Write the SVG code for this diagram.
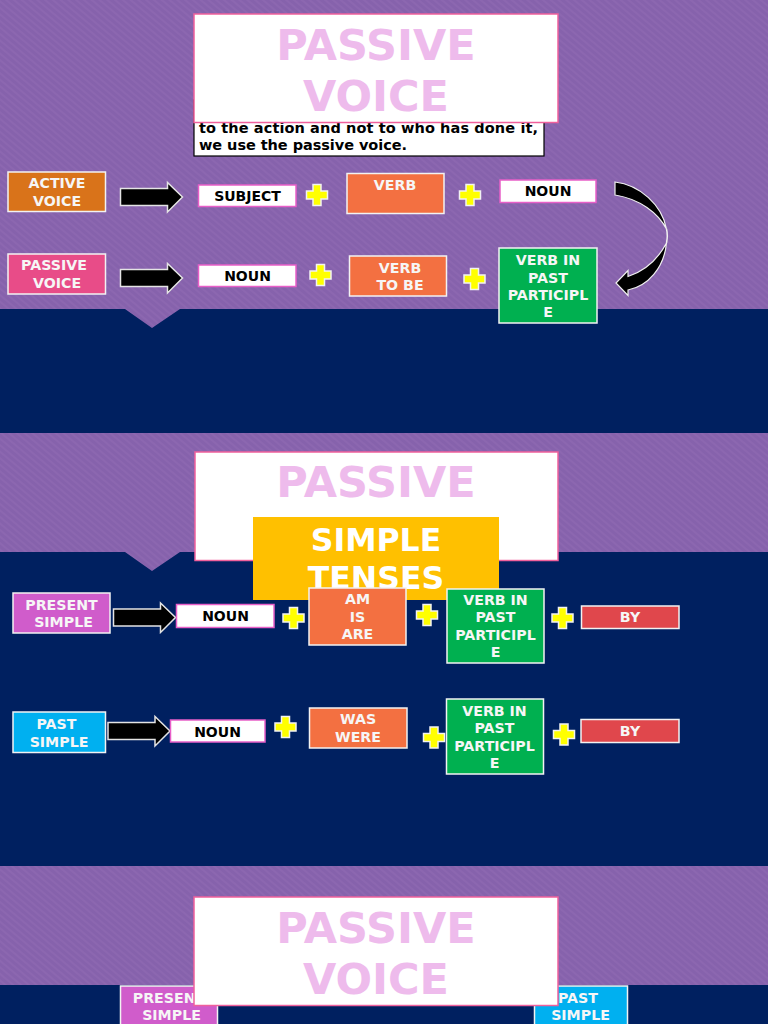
<svg xmlns="http://www.w3.org/2000/svg" width="768" height="1024" viewBox="0 0 768 1024">
<defs>
<pattern id="stripe" width="5" height="5" patternUnits="userSpaceOnUse" patternTransform="rotate(40)">
<rect width="5" height="5" fill="#8662ac"/>
<rect width="5" height="2" fill="#8c67b0"/>
</pattern>
<g id="plus"><path d="M-4 -10.500H4V-4H10.500V4H4V10.500H-4V4H-10.500V-4H-4Z" fill="#ffff00" stroke="#f2f2f2" stroke-width="1.500"/></g>
<g id="arrow"><path d="M0 -8.500H47V-14.500L62 0L47 15V8.500H0Z" fill="#000" stroke="#e4e4e4" stroke-width="1.500"/></g>
</defs>
<style>
text{font-family:"DejaVu Sans","Liberation Sans",sans-serif;font-weight:700;text-anchor:middle}
.t{font-size:43px;fill:#eebbec}
.l{font-size:14.200px;fill:#f6f6f6}
.k{font-size:14px;fill:#000}
.note{font-size:14.500px;fill:#000}
.big{font-size:31.500px;fill:#fff}
.titlebox{fill:#fff;stroke:#f0609c;stroke-width:1.500}
.w{fill:#fff;stroke:#e85fc8;stroke-width:1.500}
.n{stroke:#f2f2f2;stroke-width:1.500}
</style>
<rect id="bg" width="768" height="1024" fill="#002060"/>
<g id="bands">
<path d="M0 0H768V309H180L152 328L125 309H0Z" fill="url(#stripe)"/>
<path d="M0 433H768V552H180L152 571L125 552H0Z" fill="url(#stripe)"/>
<path d="M0 866H768V985H0Z" fill="url(#stripe)"/>
</g>

<g id="note"><rect x="194" y="100" width="350" height="56" fill="#fff" stroke="#000" stroke-width="1.200"/>
<text class="note" x="368.500" y="132.500" textLength="339">to the action and not to who has done it,</text>
<text class="note" x="303" y="149.500" textLength="208">we use the passive voice.</text></g>
<g id="title1"><rect class="titlebox" x="194" y="14" width="364" height="108.500"/>
<text class="t" x="376" y="59.500">PASSIVE</text><text class="t" x="376" y="110.500">VOICE</text></g>

<g id="connectors">
<use href="#arrow" x="120.500" y="197"/>
<use href="#arrow" x="120.500" y="278"/>
<use href="#arrow" x="113.500" y="617.500"/>
<use href="#arrow" x="108" y="731"/>
<path id="curve" d="M615 182C640 185 662 205 666.500 229C658 213 640 199 615 195Z" fill="#000" stroke="#f0f0f0" stroke-width="1.200"/>
<path id="curvehead" d="M666.500 243C664 268 648 286 628 290V295.500L616 283L628 270.500V276.500C645 271 658 259 666.500 243Z" fill="#000" stroke="#f0f0f0" stroke-width="1.200"/>
<path d="M666.500 229C667.500 233 667.500 238 666.500 243" fill="none" stroke="#f0f0f0" stroke-width="1.500"/>
</g>

<g id="active"><rect class="n" x="8" y="172" width="97.500" height="39.500" fill="#d9731a"/><text class="l" x="57" y="188">ACTIVE</text><text class="l" x="57" y="205.500">VOICE</text></g>
<g id="subject"><rect class="w" x="198.500" y="185" width="97.500" height="21.500"/><text class="k" x="247.500" y="201">SUBJECT</text></g>
<use href="#plus" x="317" y="195"/>
<g id="verb"><rect class="n" x="347" y="173.500" width="97" height="40" fill="#f37041"/><text class="l" x="395" y="190">VERB</text></g>
<use href="#plus" x="470" y="195"/>
<g id="noun1"><rect class="w" x="500" y="180" width="96" height="22.500"/><text class="k" x="548" y="196">NOUN</text></g>

<g id="passive"><rect class="n" x="8" y="254" width="97.500" height="40" fill="#e84c88"/><text class="l" x="54" y="270">PASSIVE</text><text class="l" x="57" y="288">VOICE</text></g>
<g id="noun2"><rect class="w" x="198.500" y="265" width="97.500" height="21.500"/><text class="k" x="247.500" y="281">NOUN</text></g>
<use href="#plus" x="320.500" y="275"/>
<g id="verbtobe"><rect class="n" x="349.500" y="256" width="97" height="40" fill="#f37041"/><text class="l" x="400" y="273">VERB</text><text class="l" x="400" y="290">TO BE</text></g>
<use href="#plus" x="474.500" y="279"/>
<g id="vpp1"><rect class="n" x="499" y="248" width="98" height="75" fill="#00b050"/><text class="l" x="548" y="265">VERB IN</text><text class="l" x="548" y="282.500">PAST</text><text class="l" x="548" y="300">PARTICIPL</text><text class="l" x="548" y="317">E</text></g>

<g id="title2"><rect class="titlebox" x="195" y="452" width="363" height="108.500"/>
<text class="t" x="376" y="497">PASSIVE</text></g>
<g id="tenses"><rect x="253" y="517" width="246" height="83" fill="#ffc000"/>
<text class="big" x="376" y="551">SIMPLE</text><text class="big" x="376" y="589">TENSES</text></g>

<g id="present"><rect class="n" x="13" y="593" width="97" height="40" fill="#d05ccb"/><text class="l" x="61.500" y="610">PRESENT</text><text class="l" x="63.500" y="627">SIMPLE</text></g>
<g id="noun3"><rect class="w" x="176.500" y="604.500" width="97.500" height="23"/><text class="k" x="225.500" y="621">NOUN</text></g>
<use href="#plus" x="293.500" y="618"/>
<g id="amisare"><rect class="n" x="309" y="588" width="97" height="57" fill="#f37041"/><text class="l" x="357.500" y="604">AM</text><text class="l" x="357.500" y="622">IS</text><text class="l" x="357.500" y="639">ARE</text></g>
<use href="#plus" x="427" y="615"/>
<g id="vpp2"><rect class="n" x="447" y="589" width="97" height="74" fill="#00b050"/><text class="l" x="495.500" y="605">VERB IN</text><text class="l" x="495.500" y="622">PAST</text><text class="l" x="495.500" y="640">PARTICIPL</text><text class="l" x="495.500" y="657">E</text></g>
<use href="#plus" x="562.500" y="618"/>
<g id="by1"><rect class="n" x="581.500" y="606" width="97.500" height="22.500" fill="#e0474c"/><text class="l" x="630" y="622">BY</text></g>

<g id="past"><rect class="n" x="13" y="712" width="92.500" height="40.500" fill="#00b0f0"/><text class="l" x="56.500" y="729">PAST</text><text class="l" x="59" y="747">SIMPLE</text></g>
<g id="noun4"><rect class="w" x="170.500" y="720" width="94.500" height="22"/><text class="k" x="217.500" y="736.500">NOUN</text></g>
<use href="#plus" x="285.500" y="727"/>
<g id="waswere"><rect class="n" x="309.500" y="708" width="97.500" height="40" fill="#f37041"/><text class="l" x="358" y="724">WAS</text><text class="l" x="358" y="742">WERE</text></g>
<use href="#plus" x="434" y="737.500"/>
<g id="vpp3"><rect class="n" x="446.500" y="699" width="97" height="75" fill="#00b050"/><text class="l" x="494.500" y="716">VERB IN</text><text class="l" x="494.500" y="733">PAST</text><text class="l" x="494.500" y="751">PARTICIPL</text><text class="l" x="494.500" y="768">E</text></g>
<use href="#plus" x="564" y="734.500"/>
<g id="by2"><rect class="n" x="581" y="719.500" width="98" height="23" fill="#e0474c"/><text class="l" x="630" y="736">BY</text></g>

<g id="present2"><rect class="n" x="120.500" y="986" width="97" height="40" fill="#d05ccb"/><text class="l" x="169" y="1003">PRESENT</text><text class="l" x="171.500" y="1020">SIMPLE</text></g>
<g id="past2"><rect class="n" x="534.500" y="986" width="93" height="40" fill="#00b0f0"/><text class="l" x="578" y="1003">PAST</text><text class="l" x="580.500" y="1020">SIMPLE</text></g>
<g id="title3"><rect class="titlebox" x="194" y="897" width="364" height="108.500"/>
<text class="t" x="376" y="942.500">PASSIVE</text><text class="t" x="376" y="994">VOICE</text></g>
</svg>
